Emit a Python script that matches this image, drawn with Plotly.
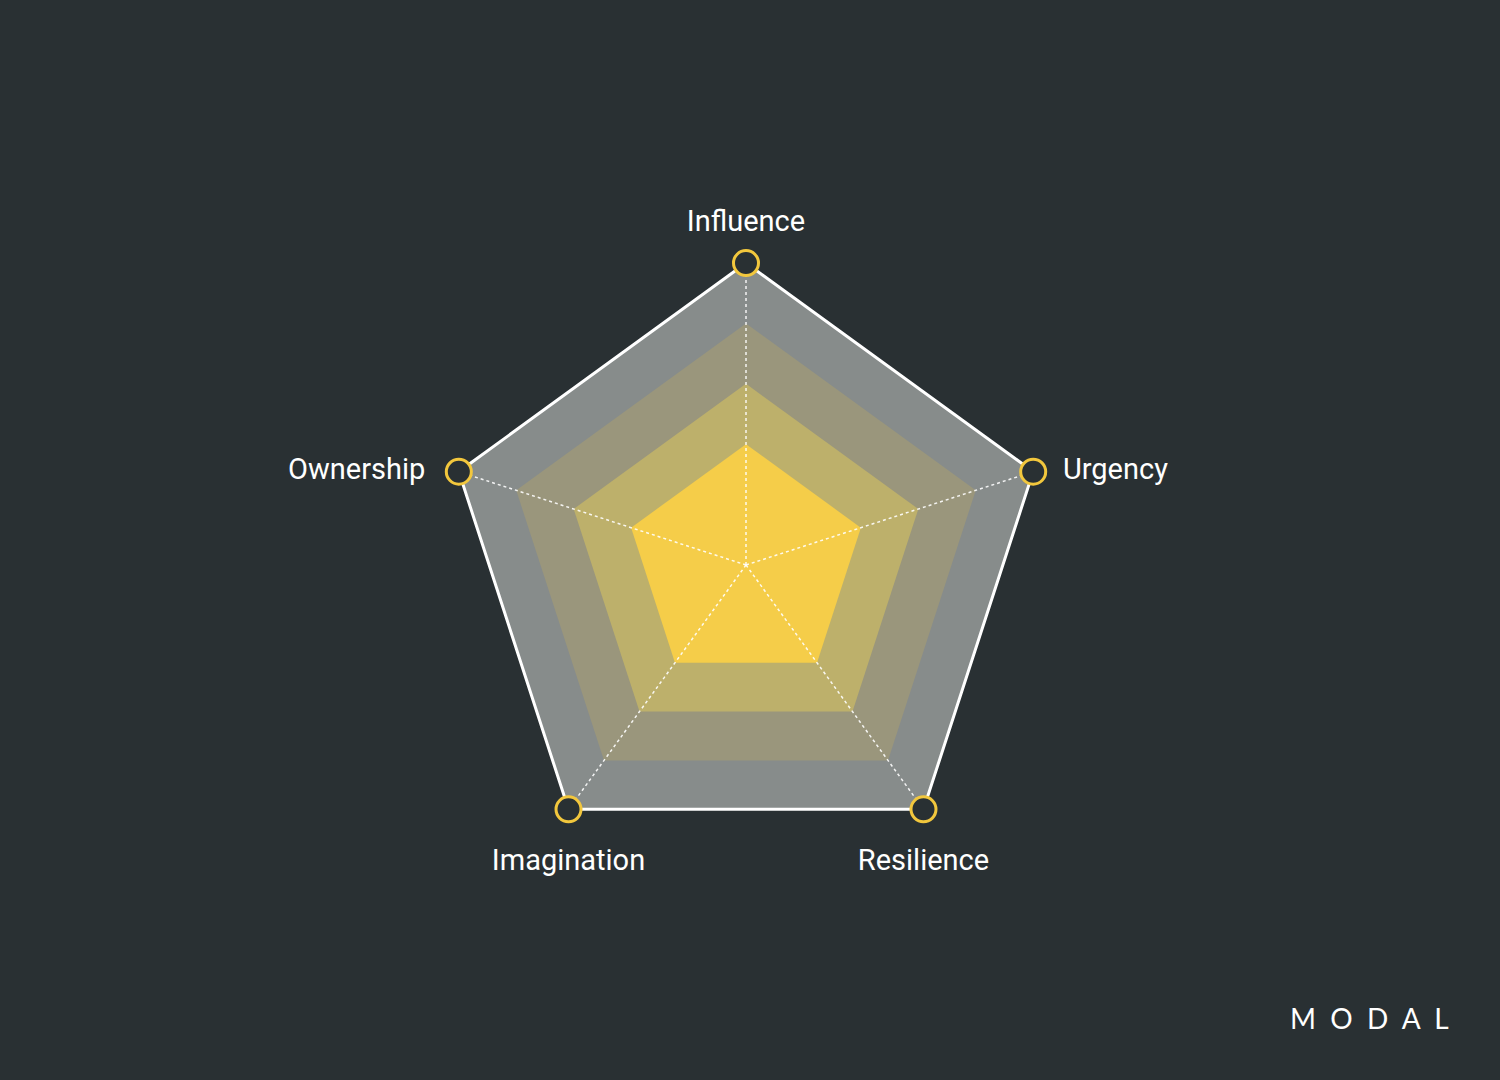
import plotly.graph_objects as go

categories = ["Influence", "Urgency", "Resilience", "Imagination", "Ownership"]
ring_levels = [5, 4, 3, 2]
ring_colors = ["#878c8b", "#9a967c", "#bdb06b", "#f5cd49"]
max_value = 5
radial_range = [0, 5.1]
label_positions = ["top center", "middle right", "bottom center", "bottom center", "middle left"]
label_gap = [38, 46, 60, 60, 52]

BG = "#293033"
YELLOW = "#f2c73d"

fig = go.Figure()

closed = categories + [categories[0]]

for lvl, col in zip(ring_levels, ring_colors):
    fig.add_trace(go.Scatterpolar(
        r=[lvl] * len(closed), theta=closed, mode="lines", fill="toself",
        fillcolor=col, line=dict(color=col, width=0),
        hoverinfo="skip", showlegend=False))

fig.add_trace(go.Scatterpolar(
    r=[max_value] * len(closed), theta=closed, mode="lines", cliponaxis=False,
    line=dict(color="white", width=3),
    hoverinfo="skip", showlegend=False))

for c in categories:
    fig.add_trace(go.Scatterpolar(
        r=[0, max_value], theta=[c, c], mode="lines",
        line=dict(color="rgba(255,255,255,0.9)", width=1.5, dash="dot"),
        hoverinfo="skip", showlegend=False))

fig.add_trace(go.Scatterpolar(
    r=[max_value] * len(categories), theta=categories, mode="markers", cliponaxis=False,
    marker=dict(size=25, color=BG, line=dict(color=YELLOW, width=3)),
    hoverinfo="skip", showlegend=False))

fig.add_trace(go.Scatterpolar(
    r=[max_value] * len(categories), theta=categories, mode="markers+text", cliponaxis=False,
    text=categories, textposition=label_positions,
    marker=dict(size=label_gap, opacity=0),
    textfont=dict(family="Roboto", size=29, color="white", weight=400),
    hoverinfo="skip", showlegend=False))

fig.update_layout(
    width=1500, height=1080,
    paper_bgcolor=BG, plot_bgcolor=BG,
    margin=dict(l=0, r=0, t=0, b=0),
    polar=dict(
        domain=dict(x=[438 / 1500, 1054 / 1500], y=[207 / 1080, 823 / 1080]),
        bgcolor="rgba(0,0,0,0)",
        gridshape="linear",
        angularaxis=dict(direction="clockwise", rotation=90, showgrid=False,
                         showline=False, showticklabels=False, ticks=""),
        radialaxis=dict(range=radial_range, visible=False),
    ),
    annotations=[dict(
        text="M\u00a0\u00a0O\u00a0\u00a0D\u00a0\u00a0A\u00a0\u00a0L",
        xref="paper", yref="paper", x=0.967, y=0.057, xanchor="right", yanchor="middle",
        showarrow=False, font=dict(family="Lato", size=28, color="white", weight=400))],
)

fig.write_html("out.html")
